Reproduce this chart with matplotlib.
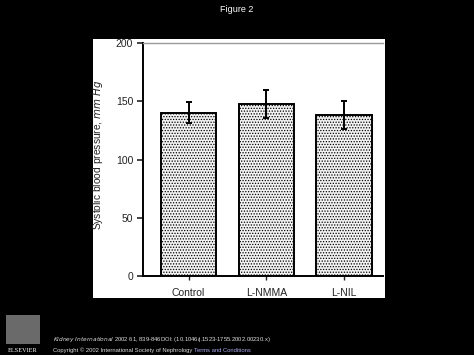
import matplotlib.pyplot as plt
import matplotlib as mpl
from matplotlib.patches import Rectangle

plt.rcParams['font.family'] = ['Liberation Sans', 'DejaVu Sans']
plt.rcParams['hatch.color'] = '#666666'
plt.rcParams['hatch.linewidth'] = 0.6

groups = ['Control', 'L-NMMA', 'L-NIL']
sbp_mean = [140, 148, 138]
sbp_err = [9, 12, 12]
y_ticks = [0, 50, 100, 150, 200]

W, H = 474, 355
fig = plt.figure(figsize=(W / 100, H / 100), dpi=100, facecolor='black')

# white panel behind the figure image
fig.patches.append(Rectangle((93 / W, 1 - 298 / H), (385 - 93) / W, (298 - 39) / H,
                             transform=fig.transFigure, facecolor='white',
                             edgecolor='none', zorder=-1))

ax = fig.add_axes([143 / W, 1 - 276 / H, (383 - 143) / W, (276 - 43) / H])
ax.set_zorder(1)
ax.set_facecolor('white')
x = range(len(groups))
ax.bar(x, sbp_mean, width=0.71, facecolor='#f2f2f2', edgecolor='black',
       linewidth=1.4, hatch='......', zorder=2)
ax.errorbar(x, sbp_mean, yerr=sbp_err, fmt='none', ecolor='black',
            elinewidth=1.4, capsize=2.5, capthick=1.4, zorder=3)

ax.set_xlim(-0.585, 2.5)
ax.set_ylim(0, 200)
ax.set_yticks(y_ticks)
ax.set_xticks(list(x))
ax.set_xticklabels(groups)
ax.tick_params(axis='y', direction='out', length=4, width=1.2, labelsize=7.5,
               pad=3, colors='#222222')
ax.tick_params(axis='x', direction='out', length=3, width=1.0, labelsize=7.5,
               pad=6, colors='#222222')
for s in ['right']:
    ax.spines[s].set_visible(False)
ax.spines['top'].set_color('#999999')
ax.spines['top'].set_linewidth(1.0)
ax.spines['left'].set_linewidth(1.4)
ax.spines['bottom'].set_linewidth(1.4)

fig.text(98 / W, 1 - 155 / H, 'Systolic blood pressure, $\\it{mm\\ Hg}$',
         rotation=90, ha='center', va='center', fontsize=7.4, color='#222222')

fig.text(0.5, 1 - 10 / H, 'Figure 2', ha='center', va='center', fontsize=6.5,
         color='white')

# publisher footer
fig.patches.append(Rectangle((6 / W, 1 - 344 / H), 34 / W, 29 / H,
                             transform=fig.transFigure, facecolor='#6a6a6a',
                             edgecolor='none'))
fig.text(23 / W, 1 - 350 / H, 'ELSEVIER', ha='center', va='center',
         fontsize=4.5, color='white', family='Liberation Serif')
fig.text(53 / W, 1 - 340 / H,
         '$\\it{Kidney\\ International}$ 2002 61, 839-846DOI: (10.1046/j.1523-1755.2002.00230.x)',
         ha='left', va='center', fontsize=4.2, color='#dddddd')
t = fig.text(53 / W, 1 - 350 / H,
             'Copyright \u00a9 2002 International Society of Nephrology ',
             ha='left', va='center', fontsize=4.2, color='#dddddd')
fig.canvas.draw()
bb = t.get_window_extent()
fig.text(bb.x1 / W, 1 - 350 / H, 'Terms and Conditions', ha='left', va='center',
         fontsize=4.2, color='#aaaaee')

fig.savefig('out.png', dpi=100, facecolor='black')
